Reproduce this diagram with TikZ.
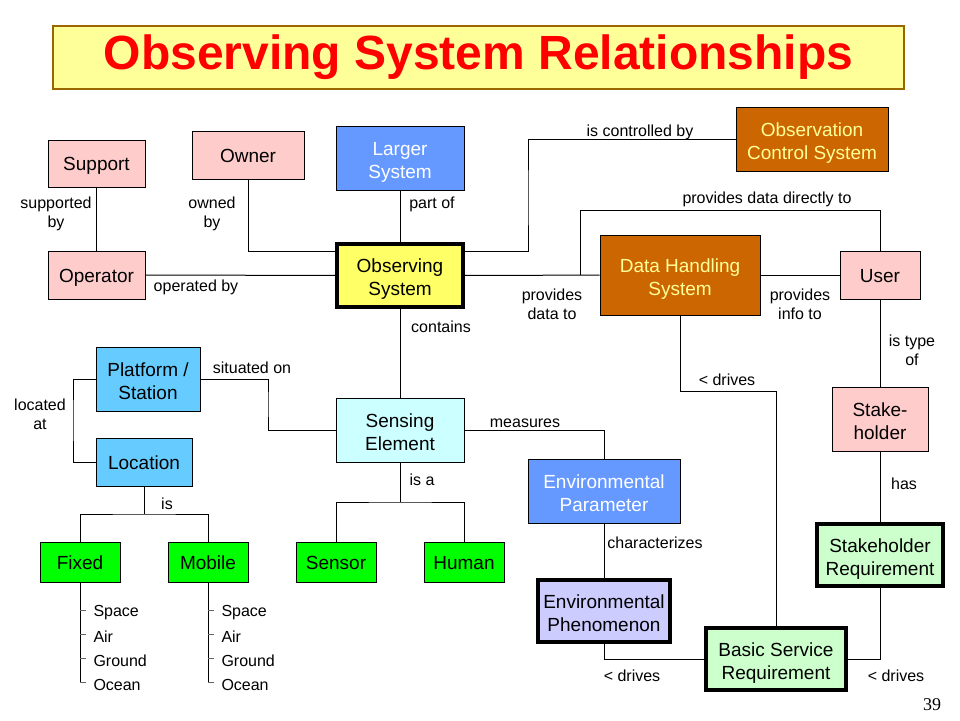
\documentclass[tikz,border=0pt]{standalone}
\usepackage{fontspec}
\setmainfont{Liberation Sans}
\newfontfamily\pagefont{Liberation Serif}
\definecolor{titlefill}{HTML}{FFFF99}
\definecolor{titleline}{HTML}{996600}
\definecolor{pinkfill}{HTML}{FFCCCC}
\definecolor{bluefill}{HTML}{6699FF}
\definecolor{skyfill}{HTML}{66CCFF}
\definecolor{cyanfill}{HTML}{CCFFFF}
\definecolor{brownfill}{HTML}{CC6600}
\definecolor{yellowfill}{HTML}{FFFF66}
\definecolor{greenfill}{HTML}{00FF00}
\definecolor{mintfill}{HTML}{CCFFCC}
\definecolor{lilacfill}{HTML}{CCCCFF}
\definecolor{paletext}{HTML}{FFFF99}
\begin{document}
\begin{tikzpicture}[x=1pt, y=-1pt, line join=miter, line width=1pt,
	box/.style={draw, line width=1pt, align=center, inner sep=0pt, font=\fontsize{19}{23}\selectfont,
		text height=18.5pt, text depth=4.4pt},
	twoline/.style={text height=44.5pt},
	heavybox/.style={box, twoline, line width=4pt},
	lbl/.style={align=center, inner sep=0pt, yshift=-2, font=\fontsize{16}{19}\selectfont},
	item/.style={anchor=west, inner sep=0pt, yshift=-2, font=\fontsize{16}{19}\selectfont}]
	\useasboundingbox (0,0) rectangle (960,720);
	\node[draw=titleline, line width=2.5pt, fill=titlefill, minimum width=851, minimum height=63, inner sep=0pt,
		font=\fontsize{48}{52}\selectfont\bfseries, text=red] (title) at (478.5,57.5) {Observing System Relationships};
	% boxes
	\node[box, fill=pinkfill, minimum width=97, minimum height=47] (support) at (96.5,163.5) {Support};
	\node[box, fill=pinkfill, minimum width=112, minimum height=48] (owner) at (248,155) {Owner};
	\node[box, twoline, fill=bluefill, text=white, minimum width=128, minimum height=64] (larger) at (400,158) {Larger\\System};
	\node[box, twoline, fill=brownfill, text=paletext, minimum width=152, minimum height=64] (ocs) at (812,139) {Observation\\Control System};
	\node[box, fill=pinkfill, minimum width=97, minimum height=48] (operator) at (96.5,275) {Operator};
	\node[heavybox, fill=yellowfill, minimum width=126, minimum height=63] (obs) at (400,275.5) {Observing\\System};
	\node[box, twoline, fill=brownfill, text=paletext, minimum width=160, minimum height=80] (dhs) at (680,275) {Data Handling\\System};
	\node[box, fill=pinkfill, minimum width=80, minimum height=48] (user) at (880,275) {User};
	\node[box, twoline, fill=skyfill, minimum width=104, minimum height=64] (platform) at (148,379) {Platform /\\Station};
	\node[box, fill=skyfill, minimum width=96, minimum height=48] (location) at (144,462) {Location};
	\node[box, twoline, fill=cyanfill, minimum width=128, minimum height=64] (sensing) at (400,430) {Sensing\\Element};
	\node[box, twoline, fill=bluefill, text=white, minimum width=152, minimum height=64] (envpar) at (604,491) {Environmental\\Parameter};
	\node[box, twoline, fill=pinkfill, minimum width=96, minimum height=64] (stake) at (880,419) {Stake-\\holder};
	\node[box, fill=greenfill, minimum width=80, minimum height=40] (fixed) at (80,562) {Fixed};
	\node[box, fill=greenfill, minimum width=80, minimum height=40] (mobile) at (208,562) {Mobile};
	\node[box, fill=greenfill, minimum width=80, minimum height=40] (sensor) at (336,562) {Sensor};
	\node[box, fill=greenfill, minimum width=80, minimum height=40] (human) at (464,562) {Human};
	\node[heavybox, fill=lilacfill, minimum width=132, minimum height=62] (envphen) at (604,611) {Environmental\\Phenomenon};
	\node[heavybox, fill=mintfill, minimum width=126, minimum height=62] (shreq) at (880,555) {Stakeholder\\Requirement};
	\node[heavybox, fill=mintfill, minimum width=140, minimum height=62] (bsr) at (776,659) {Basic Service\\Requirement};
	\path
	(580,275) coordinate (dirJ)
	(268,404) coordinate (sitJ)
	(73,420) coordinate (locJ)
	(144,514) coordinate (isJ)
	(400,502) coordinate (isaJ)
	(680,391) coordinate (drvJ)
	;
	% connectors
	\draw (support) -- (operator);
	\draw (owner.south) |- ([yshift=24.5]obs.west);
	\draw (larger) -- (obs);
	\draw (operator) -- (obs);
	\draw ([yshift=24.5]obs.east) -| (528,200) |- (ocs.west);
	\draw (obs) -- (dhs);
	\draw (dirJ) -- ++(0,-65) -| (user.north);
	\draw (dhs) -- (user);
	\draw (user) -- (stake);
	\draw (obs) -- (sensing);
	\draw (platform.east) -| (sitJ) |- (sensing.west);
	\draw (platform.west) -| (locJ) |- (location.west);
	\draw (location.south) -- (isJ);
	\draw (fixed.north) |- (isJ) -| (mobile.north);
	\draw (sensing.south) -- (isaJ);
	\draw (sensor.north) |- (isaJ) -| (human.north);
	\draw (sensing.east) -| (envpar.north);
	\draw (envpar) -- (envphen);
	\draw (envphen.south) |- (bsr.west);
	\draw (dhs.south) -- (drvJ) -| (bsr.north);
	\draw (stake) -- (shreq);
	\draw (shreq.south) |- (bsr.east);
	% sub items
	\foreach \f in {fixed,mobile}{
		\draw (\f.south) -- ++(0,100) -- ++(6,0);
		\foreach \y/\t in {28/Space,52/Air,76/Ground,100/Ocean}{
			\draw[black!60, line width=1.5pt] ([yshift=-\y]\f.south) -- ++(6,0);
			\node[item] at ([xshift=13,yshift=-\y]\f.south) {\t};
		}
	}
	% labels
	\node[lbl] (lsup) at (56,211.5) {supported\\by};
	\node[lbl] (lown) at (212,211.5) {owned\\by};
	\node[lbl] (lpart) at (432,202) {part of};
	\node[lbl] (lop) at (196,285) {operated by};
	\node[lbl] (lctrl) at (640,130) {is controlled by};
	\node[lbl] (ldir) at (767,197) {provides data directly to};
	\node[lbl] (ldata) at (552,302.5) {provides\\data to};
	\node[lbl] (linfo) at (800,302.5) {provides\\info to};
	\node[lbl] (ltype) at (912,348) {is type\\of};
	\node[lbl] (lcont) at (441,325) {contains};
	\node[lbl] (lsit) at (252,366) {situated on};
	\node[lbl] (lloc) at (40,412) {located\\at};
	\node[lbl] (lis) at (167,502) {is};
	\node[lbl] (lisa) at (422,478) {is a};
	\node[lbl] (lmeas) at (525,421) {measures};
	\node[lbl] (lchar) at (655,541) {characterizes};
	\node[lbl] (ldrv1) at (727,378) {< drives};
	\node[lbl] (ldrv2) at (632,674) {< drives};
	\node[lbl] (ldrv3) at (896,674) {< drives};
	\node[lbl] (lhas) at (904,482) {has};
	\node[font=\pagefont\fontsize{18}{20}\selectfont, inner sep=0pt] (page) at (932,705) {39};
\end{tikzpicture}
\end{document}
